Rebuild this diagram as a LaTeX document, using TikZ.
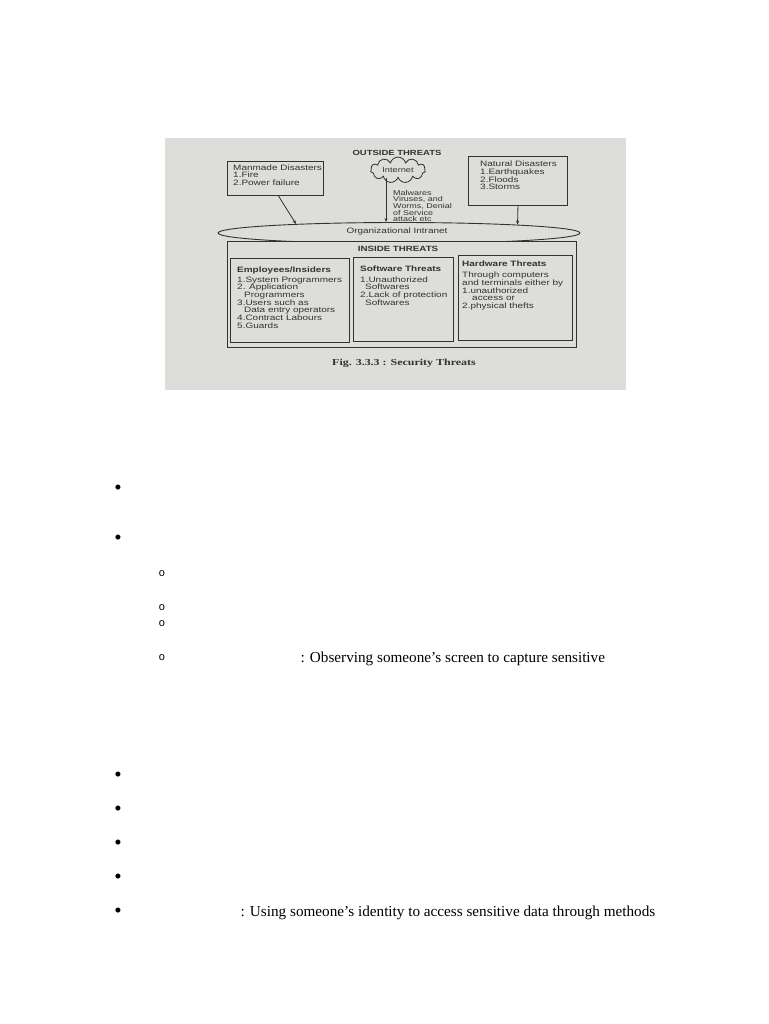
\documentclass[tikz,border=0pt]{standalone}
\usepackage{fontspec}
\setmainfont{Liberation Serif}
\newfontfamily\photosans[FakeStretch=1.28]{Liberation Sans}
\newfontfamily\photoserif[FakeStretch=1.3]{Liberation Serif}
\newfontfamily\subbulfont{Liberation Mono}
\usetikzlibrary{shapes.geometric,shapes.symbols,arrows.meta}
\definecolor{paper}{RGB}{221,221,218}
\definecolor{ink}{RGB}{50,50,50}
\tikzstyle{boxline}=[draw=ink,line width=0.9pt,inner sep=0pt]
\tikzstyle{subline}=[draw=ink,line width=1.3pt,inner sep=0pt]
\tikzstyle{txt}=[text=ink,inner sep=0pt,align=left,anchor=north west,font=\photosans\fontsize{7.8}{7.7}\selectfont]
\tikzstyle{head}=[text=ink,inner sep=0pt,font=\photosans\bfseries\fontsize{7.4}{8}\selectfont]
\tikzstyle{arr}=[draw=ink,line width=0.8pt,-{Stealth[length=4pt,width=3pt]}]
\tikzstyle{pagetext}=[inner sep=0pt,anchor=base west,font=\fontsize{15.2}{18}\selectfont]
\tikzstyle{bul}=[inner sep=0pt,font=\fontsize{21}{24}\selectfont]
\tikzstyle{subbul}=[inner sep=0pt,font=\subbulfont\fontsize{11}{12}\selectfont]

\begin{document}
\begin{tikzpicture}[x=1pt,y=-1pt]
	\useasboundingbox (0,0) rectangle (768,1024);
	\fill[white] (0,0) rectangle (768,1024);
	% photo of the figure
	\fill[paper] (165,138) rectangle (626,390);
	\node[head] (outside) at (397,153) {OUTSIDE THREATS};

	\node[boxline,minimum width=96pt,minimum height=34pt,anchor=north west] (manmade) at (227,161) {};
	\node[txt] (manmadetxt) at (233,164.3) {Manmade Disasters\\1.Fire\\2.Power failure};

	\node[cloud,draw=ink,line width=0.8pt,cloud puffs=11,aspect=2.6,inner sep=0pt,minimum width=55pt,minimum height=19pt,text=ink,font=\photosans\fontsize{7.2}{8}\selectfont] (internet) at (398,170) {Internet};
	\node[txt,font=\photosans\fontsize{7}{6.6}\selectfont] (malware) at (393,190) {Malwares\\Viruses, and\\Worms, Denial\\of Service\\attack etc};

	\node[boxline,minimum width=99pt,minimum height=49pt,anchor=north west] (natural) at (468,156) {};
	\node[txt] (naturaltxt) at (480,161) {Natural Disasters\\1.Earthquakes\\2.Floods\\3.Storms};

	% intranet and inside threats
	\node[ellipse,draw=ink,line width=0.9pt,minimum width=362pt,minimum height=21pt,inner sep=0pt] (intranet) at (399,233) {};
	\node[boxline,fill=paper,minimum width=349pt,minimum height=106pt,anchor=north west] (inside) at (227,241) {};
	\node[text=ink,inner sep=0pt,font=\photosans\fontsize{7.8}{8}\selectfont] (intranettxt) at (397,231) {Organizational Intranet};
	\node[head,font=\photosans\bfseries\fontsize{7.6}{8}\selectfont] (insidetxt) at (398,249) {INSIDE THREATS};

	\node[subline,minimum width=119pt,minimum height=84pt,anchor=north west] (employees) at (230,258) {};
	\node[subline,minimum width=100pt,minimum height=84pt,anchor=north west] (software) at (353,257) {};
	\node[subline,minimum width=114pt,minimum height=85pt,anchor=north west] (hardware) at (458,255) {};
	\node[txt] (employeestxt) at (237,267) {\textbf{Employees/Insiders}\\[1.6pt]1.System Programmers\\2. Application\\\hspace*{7pt}Programmers\\3.Users such as\\\hspace*{7pt}Data entry operators\\4.Contract Labours\\5.Guards};
	\node[txt] (softwaretxt) at (360,266) {\textbf{Software Threats}\\[2.6pt]1.Unauthorized\\\hspace*{5pt}Softwares\\2.Lack of protection\\\hspace*{5pt}Softwares};
	\node[txt] (hardwaretxt) at (462,261) {\textbf{Hardware Threats}\\[3.3pt]Through computers\\and terminals either by\\1.unauthorized\\\hspace*{10pt}access or\\2.physical thefts};

	\draw[arr] ([xshift=3pt]manmade.south) -- (intranet.175);
	\draw[arr] (internet.south -| intranet.140) -- (intranet.140);
	\draw[arr] (natural.south) -- (intranet.4);

	\node[text=ink,inner sep=0pt,font=\photoserif\bfseries\fontsize{9.2}{10}\selectfont] (caption) at (404,363) {Fig. 3.3.3 : Security Threats};

	% page below the photo
	\node[bul] (b1) at (118,490) {•};
	\node[bul] (b2) at (118,540) {•};
	\node[subbul] (s1) at (162,574) {o};
	\node[subbul] (s2) at (162,608) {o};
	\node[subbul] (s3) at (162,624) {o};
	\node[subbul] (s4) at (162,658) {o};
	\node[pagetext] (observe) at (300.5,662) {: Observing someone’s screen to capture sensitive};
	\node[bul] (b3) at (118,777) {•};
	\node[bul] (b4) at (118,811) {•};
	\node[bul] (b5) at (118,845) {•};
	\node[bul] (b6) at (118,879) {•};
	\node[bul] (b7) at (118,913) {•};
	\node[pagetext] (identity) at (240.5,916.5) {: Using someone’s identity to access sensitive data through methods};
\end{tikzpicture}
\end{document}
